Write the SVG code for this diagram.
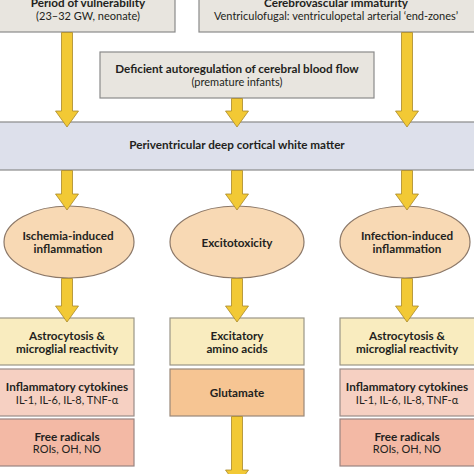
<svg xmlns="http://www.w3.org/2000/svg" width="474" height="474" viewBox="0 0 474 474">
<style>
text{font-family:Lato,"Liberation Sans",sans-serif;fill:#231f20;text-anchor:middle}
.b{font-weight:bold;font-size:11.7px}
.n{font-size:11px}
.grey{fill:#e8e5df;stroke:#8a8a8a;stroke-width:1.2}
.band{fill:#dde0eb;stroke:#8a8a8a;stroke-width:1.2}
.ell{fill:#f8d9b4;stroke:#8c7868;stroke-width:1.2}
.yel{fill:#f9ecbf;stroke:#9a9688;stroke-width:1.2}
.pink{fill:#f6d0c2;stroke:#9a8c88;stroke-width:1.2}
.sal{fill:#f3b9a5;stroke:#9a8480;stroke-width:1.2}
.org{fill:#f6c593;stroke:#9a8878;stroke-width:1.2}
.arr{fill:#f2c935;stroke:#a8882a;stroke-width:0.8}
</style>
<rect width="474" height="474" fill="#ffffff"/>
<g id="period">
<rect class="grey" x="-2" y="-10" width="177" height="42"/>
<text class="b" x="88" y="6.5">Period of vulnerability</text>
<text class="n" x="88" y="19.5">(23–32 GW, neonate)</text>
</g>
<g id="cerebro">
<rect class="grey" x="199" y="-10" width="280" height="42"/>
<text class="b" x="336" y="6.5">Cerebrovascular immaturity</text>
<text class="n" x="336" y="19.5">Ventriculofugal: ventriculopetal arterial ‘end-zones’</text>
</g>
<g id="deficient">
<rect class="grey" x="100" y="52" width="274" height="46"/>
<text class="b" x="237" y="72.5">Deficient autoregulation of cerebral blood flow</text>
<text class="n" x="237" y="85.5">(premature infants)</text>
</g>
<g id="band">
<rect class="band" x="-2" y="122" width="478" height="48"/>
<text class="b" x="237" y="149">Periventricular deep cortical white matter</text>
</g>
<g id="ischemia">
<ellipse class="ell" cx="69" cy="242" rx="65" ry="36"/>
<text class="b" x="68" y="239.5">Ischemia-induced</text>
<text class="b" x="68" y="252.5">inflammation</text>
</g>
<g id="excito">
<ellipse class="ell" cx="237" cy="242" rx="67" ry="36"/>
<text class="b" x="237" y="247">Excitotoxicity</text>
</g>
<g id="infection">
<ellipse class="ell" cx="405" cy="242" rx="65" ry="36"/>
<text class="b" x="407" y="239.5">Infection-induced</text>
<text class="b" x="407" y="252.5">inflammation</text>
</g>
<g id="astro-left">
<rect class="yel" x="-2" y="318" width="136" height="47"/>
<text class="b" x="67" y="339.5">Astrocytosis &amp;</text>
<text class="b" x="67" y="352.5">microglial reactivity</text>
</g>
<g id="cyto-left">
<rect class="pink" x="-2" y="369" width="136" height="47"/>
<text class="b" x="67" y="390.5">Inflammatory cytokines</text>
<text class="n" x="67" y="403.5">IL-1, IL-6, IL-8, TNF-α</text>
</g>
<g id="free-left">
<rect class="sal" x="-2" y="419" width="136" height="47"/>
<text class="b" x="67" y="440.5">Free radicals</text>
<text class="n" x="67" y="453">ROIs, OH, NO</text>
</g>
<g id="excitatory">
<rect class="yel" x="170" y="318" width="134" height="47"/>
<text class="b" x="237" y="339.5">Excitatory</text>
<text class="b" x="237" y="352.5">amino acids</text>
</g>
<g id="glutamate">
<rect class="org" x="170" y="369" width="134" height="47"/>
<text class="b" x="237" y="397">Glutamate</text>
</g>
<g id="astro-right">
<rect class="yel" x="340" y="318" width="138" height="47"/>
<text class="b" x="407" y="339.5">Astrocytosis &amp;</text>
<text class="b" x="407" y="352.5">microglial reactivity</text>
</g>
<g id="cyto-right">
<rect class="pink" x="340" y="369" width="138" height="47"/>
<text class="b" x="407" y="390.5">Inflammatory cytokines</text>
<text class="n" x="407" y="403.5">IL-1, IL-6, IL-8, TNF-α</text>
</g>
<g id="free-right">
<rect class="sal" x="340" y="419" width="138" height="47"/>
<text class="b" x="407" y="440.5">Free radicals</text>
<text class="n" x="407" y="453">ROIs, OH, NO</text>
</g>
<g id="connectors">
<path class="arr" d="M61.5 32.5V111H55.5L67 127L78.5 111H72.5V32.5Z"/>
<path class="arr" d="M231.5 98.5V111H225.5L237 127L248.5 111H242.5V98.5Z"/>
<path class="arr" d="M401.5 32.5V111H395.5L407 127L418.5 111H412.5V32.5Z"/>
<path class="arr" d="M61.5 170.5V194H55.5L67 210L78.5 194H72.5V170.5Z"/>
<path class="arr" d="M231.5 170.5V194H225.5L237 210L248.5 194H242.5V170.5Z"/>
<path class="arr" d="M401.5 170.5V194H395.5L407 210L418.5 194H412.5V170.5Z"/>
<path class="arr" d="M61.5 278.5V306H55.5L67 322L78.5 306H72.5V278.5Z"/>
<path class="arr" d="M231.5 278.5V306H225.5L237 322L248.5 306H242.5V278.5Z"/>
<path class="arr" d="M401.5 278.5V306H395.5L407 322L418.5 306H412.5V278.5Z"/>
<path class="arr" d="M231.5 416.5V470H225.5L237 486L248.5 470H242.5V416.5Z"/>
</g>
</svg>
